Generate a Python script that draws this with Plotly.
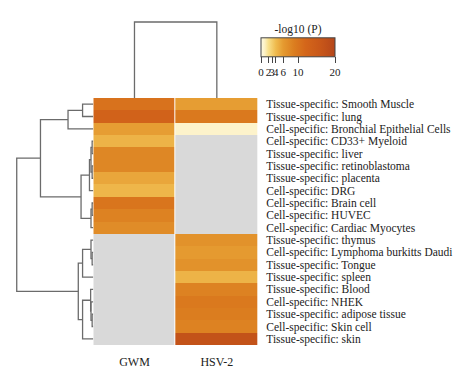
import plotly.graph_objects as go

# ---------------- data ----------------
rows = [
    "Tissue-specific: Smooth Muscle",
    "Tissue-specific: lung",
    "Cell-specific: Bronchial Epithelial Cells",
    "Cell-specific: CD33+ Myeloid",
    "Tissue-specific: liver",
    "Tissue-specific: retinoblastoma",
    "Tissue-specific: placenta",
    "Cell-specific: DRG",
    "Cell-specific: Brain cell",
    "Cell-specific: HUVEC",
    "Cell-specific: Cardiac Myocytes",
    "Tissue-specific: thymus",
    "Cell-specific: Lymphoma burkitts Daudi",
    "Tissue-specific: Tongue",
    "Tissue-specific: spleen",
    "Tissue-specific: Blood",
    "Cell-specific: NHEK",
    "Tissue-specific: adipose tissue",
    "Cell-specific: Skin cell",
    "Tissue-specific: skin",
]
cols = ["GWM", "HSV-2"]
gwm = [10.5, 13.0, 5.8, 4.5, 8.0, 8.0, 5.3, 4.3, 10.0, 8.5, 7.5,
       None, None, None, None, None, None, None, None, None]
hsv2 = [5.8, 9.5, 0.8, None, None, None, None, None, None, None, None,
        6.8, 6.0, 6.8, 4.5, 8.5, 9.5, 9.0, 8.5, 17.0]

cb_tickvals = [0, 2, 3, 4, 6, 10, 20]
cb_ticktext = ["0", "2", "3", "4", "6", "10", "20"]

# row dendrogram linkage: (child a, child b, height); leaves are row indices 0..19
row_linkage = [
    (0, 1, 0.14),     # 20
    (20, 2, 0.33),    # 21
    (3, 4, 0.015),    # 22
    (5, 6, 0.015),    # 23
    (22, 23, 0.03),   # 24
    (24, 7, 0.05),    # 25
    (8, 9, 0.015),    # 26
    (26, 10, 0.03),   # 27
    (25, 27, 0.16),   # 28
    (21, 28, 0.69),   # 29
    (12, 13, 0.015),  # 30
    (11, 30, 0.03),   # 31
    (31, 14, 0.14),   # 32
    (17, 18, 0.015),  # 33
    (16, 33, 0.03),   # 34
    (15, 34, 0.035),  # 35
    (35, 19, 0.14),   # 36
    (32, 36, 0.196),  # 37
    (29, 37, 1.0),    # 38
]
col_linkage = [(0, 1, 1.0)]

# ---------------- helpers ----------------
OFF = 8                 # page body margin
W, H = 474 - 2 * OFF, 379 - 2 * OFF
def px(x):
    return (x - OFF) / W
def py(y):
    return 1 - (y - OFF) / H

def dendro_segments(linkage, n):
    pos = {i: float(i) for i in range(n)}
    hgt = {i: 0.0 for i in range(n)}
    xs, ys = [], []
    for k, (a, b, h) in enumerate(linkage):
        node = n + k
        xs += [pos[a], pos[a], pos[b], pos[b], None]
        ys += [hgt[a], h, h, hgt[b], None]
        pos[node] = (pos[a] + pos[b]) / 2
        hgt[node] = h
    return xs, ys

colorscale = [
    [0.0, "#fffbe6"],
    [0.05, "#fcf1c4"],
    [0.10, "#f8e08c"],
    [0.20, "#efbb4e"],
    [0.30, "#e59a30"],
    [0.45, "#db7d1f"],
    [0.60, "#d4661a"],
    [0.80, "#c85719"],
    [1.0, "#b5461a"],
]

z = [[gwm[i], hsv2[i]] for i in range(len(rows))]
mask = [[1 if v is None else None for v in r] for r in z]

FONT = "Liberation Serif"
TXT = "#222222"
LINE = "#6b6b6b"

fig = go.Figure()

fig.add_trace(go.Heatmap(
    z=mask, x=[0, 1], y=list(range(len(rows))),
    colorscale=[[0, "#d9d9d9"], [1, "#d9d9d9"]], showscale=False,
    xgap=1, hoverinfo="skip", xaxis="x", yaxis="y",
))
fig.add_trace(go.Heatmap(
    z=z, x=[0, 1], y=list(range(len(rows))),
    colorscale=colorscale, zmin=0, zmax=20, xgap=1, hoverinfo="skip",
    xaxis="x", yaxis="y",
    colorbar=dict(
        orientation="h", lenmode="pixels", len=94,
        thicknessmode="pixels", thickness=19,
        x=px(298), xanchor="center", y=py(89), yanchor="bottom",
        outlinecolor="#444", outlinewidth=1,
        ticks="outside", ticklen=6, tickcolor="#444", tickangle=0,
        tickvals=cb_tickvals, ticktext=cb_ticktext,
        tickfont=dict(family=FONT, size=11, color=TXT),
        title=dict(text="-log10 (P)", side="top",
                   font=dict(family=FONT, size=11.5, color=TXT)),
    ),
))

rx, ry = dendro_segments(row_linkage, len(rows))
fig.add_trace(go.Scatter(x=ry, y=rx, mode="lines",
                         line=dict(color=LINE, width=1.3),
                         hoverinfo="skip", showlegend=False,
                         xaxis="x2", yaxis="y2"))
cx, cy = dendro_segments(col_linkage, len(cols))
fig.add_trace(go.Scatter(x=cx, y=cy, mode="lines",
                         line=dict(color=LINE, width=1.3),
                         hoverinfo="skip", showlegend=False,
                         xaxis="x3", yaxis="y3"))

hm_x = [px(93.3), px(258)]
hm_y = [py(345), py(98)]
nrows = len(rows)

fig.update_layout(
    width=W, height=H, autosize=False,
    margin=dict(l=0, r=0, t=0, b=0, autoexpand=False),
    paper_bgcolor="white", plot_bgcolor="white",
    showlegend=False,
    font=dict(family=FONT, size=11.5, color=TXT),
    xaxis=dict(domain=hm_x, range=[-0.5, 1.5], tickvals=[0, 1], ticktext=cols,
               ticks="outside", ticklen=6, tickcolor="rgba(0,0,0,0)",
               showgrid=False, zeroline=False, showline=False, automargin=False,
               tickfont=dict(family=FONT, size=12, color=TXT)),
    yaxis=dict(domain=hm_y, range=[nrows - 0.5, -0.5], side="right",
               tickvals=list(range(nrows)), ticktext=rows,
               ticks="outside", ticklen=5, tickcolor="rgba(0,0,0,0)",
               showgrid=False, zeroline=False, showline=False, automargin=False,
               tickfont=dict(family=FONT, size=11.5, color=TXT)),
    xaxis2=dict(domain=[px(15.2), px(93.3)], range=[1.02, 0], anchor="y2",
                visible=False),
    yaxis2=dict(domain=hm_y, range=[nrows - 0.5, -0.5], anchor="x2",
                visible=False),
    xaxis3=dict(domain=hm_x, range=[-0.5, 1.5], anchor="y3", visible=False),
    yaxis3=dict(domain=[py(98), py(20.5)], range=[0, 1.02], anchor="x3",
                visible=False),
)

fig.write_html("out.html")
